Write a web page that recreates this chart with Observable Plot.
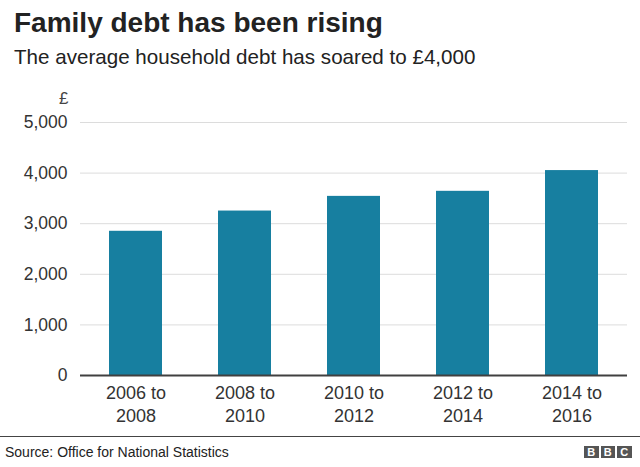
<!DOCTYPE html>
<html>
<head>
<meta charset="utf-8">
<script src="https://cdn.jsdelivr.net/npm/d3@7"></script>
<script src="https://cdn.jsdelivr.net/npm/@observablehq/plot@0.6"></script>
<style>
  body { margin: 0; background: #fff; font-family: "Liberation Sans", Arial, sans-serif; }
  #wrap { position: relative; width: 640px; height: 467px; overflow: hidden; }
  .abs { position: absolute; white-space: nowrap; }
  #title { left: 14px; top: 7px; font-size: 28px; font-weight: bold; color: #222; }
  #subtitle { left: 14px; top: 45px; font-size: 20.6px; color: #222; }
  #unit { left: 59px; top: 89px; font-size: 17px; color: #444; }
  #chart { left: 0; top: 80px; }
  #rule { left: 0; top: 436px; width: 640px; height: 0; border-top: 1.5px solid #444; }
  #source { left: 5px; top: 444px; font-size: 14px; color: #222; }
  #bbc { left: 584px; top: 446px; display: flex; gap: 2px; }
  #bbc span { display: block; width: 14.5px; height: 12px; background: #555; color: #fff; font-weight: bold; font-size: 11px; line-height: 12px; text-align: center; }
</style>
</head>
<body>
<div id="wrap">
  <div id="title" class="abs">Family debt has been rising</div>
  <div id="subtitle" class="abs">The average household debt has soared to £4,000</div>
  <div id="unit" class="abs">£</div>
  <div id="chart" class="abs"></div>
  <div id="rule" class="abs"></div>
  <div id="source" class="abs">Source: Office for National Statistics</div>
  <div id="bbc" class="abs"><span>B</span><span>B</span><span>C</span></div>
</div>
<script>
const periods = ["2006 to\n2008", "2008 to\n2010", "2010 to\n2012", "2012 to\n2014", "2014 to\n2016"];
const debt = [2850, 3250, 3540, 3640, 4050];
const yTicks = [0, 1000, 2000, 3000, 4000, 5000];

const data = periods.map((p, i) => ({period: p, value: debt[i]}));

const chart = Plot.plot({
  width: 640,
  height: 350,
  marginTop: 42,
  marginBottom: 55,
  marginLeft: 80,
  marginRight: 13,
  style: {fontFamily: "Liberation Sans, Arial, sans-serif", fontSize: "17.5px", color: "#333", background: "transparent"},
  x: {domain: periods, paddingInner: 0.515, paddingOuter: 0.255, label: null},
  y: {domain: [0, 5000], label: null},
  marks: [
    Plot.gridY(yTicks, {stroke: "#dcdcdc", strokeOpacity: 1, strokeWidth: 1}),
    Plot.barY(data, {x: "period", y: "value", fill: "#177fa0"}),
    Plot.ruleY([0], {stroke: "#404040", strokeWidth: 2}),
    Plot.axisY({ticks: yTicks, tickSize: 0, tickPadding: 13, tickFormat: d3.format(","), label: null, fontSize: 17.5}),
    Plot.axisX({tickSize: 0, tickPadding: 7, label: null, lineHeight: 1.28, fontSize: 18})
  ]
});
document.getElementById("chart").appendChild(chart);
</script>
</body>
</html>
